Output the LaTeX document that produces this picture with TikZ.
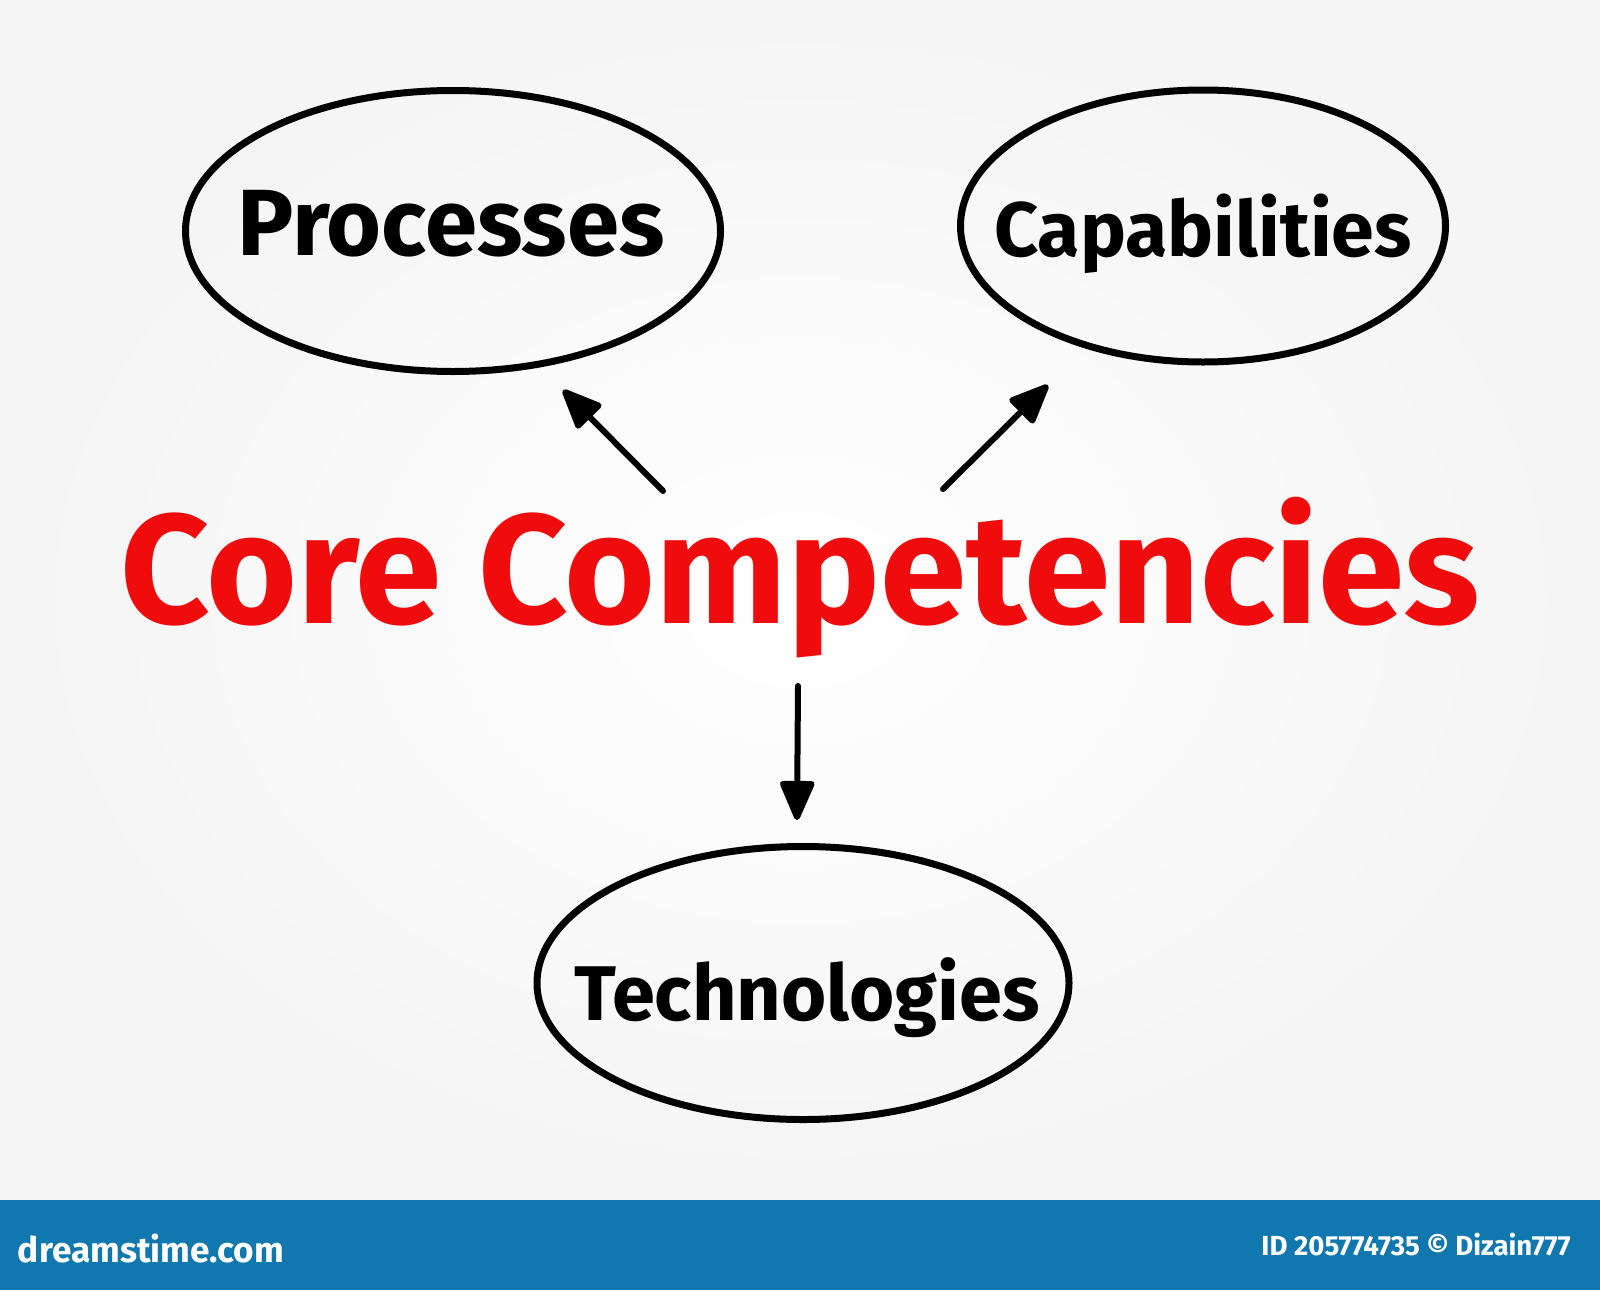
\documentclass[tikz,border=0pt]{standalone}
\usepackage{fontspec}
\setmainfont{Fira Sans}
\usetikzlibrary{arrows.meta,shapes.geometric}
\definecolor{redtxt}{RGB}{240,12,12}
\definecolor{barblue}{RGB}{17,120,175}
\begin{document}
\begin{tikzpicture}[x=1pt,y=-1pt,
  bubble/.style={ellipse, draw=black, line width=7pt, inner sep=0pt},
  lbl/.style={anchor=base, inner sep=0pt, font=\bfseries},
  arr/.style={line width=6pt, line cap=round, -{Triangle[length=44pt,width=36pt,round]}},
  bartxt/.style={anchor=base, inner sep=0pt, text=white, font=\bfseries}]
\useasboundingbox (0,0) rectangle (1600,1290);
\shade[inner color=white, outer color=black!4] (0,0) rectangle (1600,1200);
\fill[barblue] (0,1200) rectangle (1600,1290);

% ellipses
\node[bubble, minimum width=535pt, minimum height=281pt] (procE) at (453,231) {};
\node[bubble, minimum width=485pt, minimum height=272pt] (capE) at (1203,226) {};
\node[bubble, minimum width=532pt, minimum height=273pt] (techE) at (803,983) {};

% labels
\node[lbl] (procT) at (451,255) {\resizebox{427pt}{!}{Processes}};
\node[lbl] (capT) at (1203,256) {\resizebox{417pt}{!}{Capabilities}};
\node[lbl] (techT) at (807,1020) {\resizebox{465pt}{!}{Technologies}};
\node[lbl, text=redtxt] (core) at (800,623) {\resizebox{1360pt}{!}{Core Competencies}};

% arrows
\coordinate (t1) at (663,491); \coordinate (h1) at (563,390);
\coordinate (t2) at (943,489); \coordinate (h2) at (1048,385);
\coordinate (t3) at (798,686); \coordinate (h3) at (797,820);
\draw[arr] (t1) -- (h1);
\draw[arr] (t2) -- (h2);
\draw[arr] (t3) -- (h3);

% bottom bar
\node[bartxt] (dt) at (151,1262) {\resizebox{266pt}{!}{dreamstime.com}};
\node[bartxt] (id) at (1416,1255) {\resizebox{309pt}{!}{ID 205774735 © Dizain777}};
\end{tikzpicture}
\end{document}
